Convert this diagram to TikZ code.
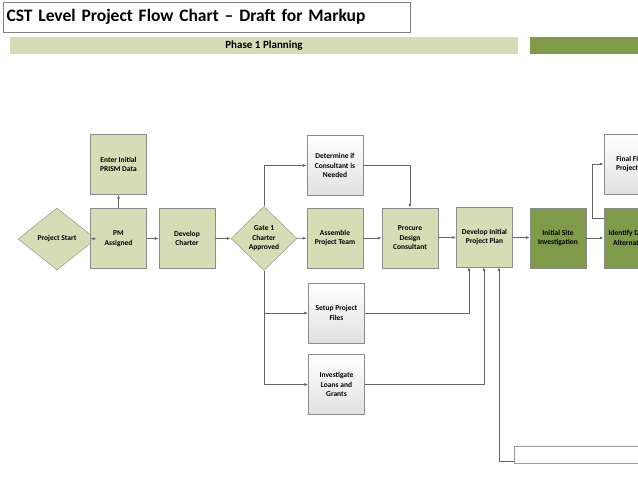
\documentclass[tikz,border=0pt]{standalone}
\usepackage{fontspec}
\setmainfont{Carlito}
\usetikzlibrary{shapes.geometric,arrows.meta}
\definecolor{lg}{HTML}{D5DCB6}
\definecolor{dg}{HTML}{7F9B4A}
\definecolor{bd}{HTML}{8C8C8C}
\begin{document}
\begin{tikzpicture}[x=1pt,y=-1pt,
 box/.style={draw=bd,fill=lg,minimum width=56pt,minimum height=60pt,align=center,font=\bfseries\fontsize{7.5}{9.5}\selectfont,inner sep=1pt},
 dbox/.style={box,fill=dg},
 gbox/.style={box,fill=none,top color=white,bottom color=black!12},
 dia/.style={diamond,draw=bd,fill=lg,aspect=1.25,minimum width=78pt,minimum height=62pt,align=center,font=\bfseries\fontsize{7.5}{9.5}\selectfont,inner sep=0pt},
 ar/.style={draw=black!60,line width=0.8pt,-{Latex[length=4pt,width=3pt]}},
 ln/.style={draw=black!60,line width=0.8pt}]
\useasboundingbox (0,0) rectangle (638,479);
\fill[white] (0,0) rectangle (638,479);
\node[draw=black!50,fill=white,minimum width=407pt,minimum height=30pt,text width=400pt,align=left,inner sep=3pt,font=\bfseries\fontsize{17.5}{19}\selectfont] (title) at (206.5,17) {CST Level Project Flow Chart – Draft for Markup};
\node[fill=lg,minimum width=508pt,minimum height=17pt,inner sep=0pt,font=\bfseries\fontsize{11}{12}\selectfont] (phase) at (264,45.5) {Phase 1 Planning};
\fill[dg] (530,37) rectangle (638,54);
\node[dia] (start) at (57,239) {Project Start};
\node[box] (pm) at (118.5,238.5) {PM\\Assigned};
\node[box] (prism) at (118.5,164.5) {Enter Initial\\PRISM Data};
\node[box] (charter) at (187,238.5) {Develop\\Charter};
\node[dia,minimum width=66pt,minimum height=64pt,aspect=1] (gate) at (264,238.5) {Gate 1\\Charter\\Approved};
\node[gbox] (det) at (335,165.5) {Determine if\\Consultant is\\Needed};
\node[box] (team) at (335,238) {Assemble\\Project Team};
\node[box] (proc) at (410,238) {Procure\\Design\\Consultant};
\node[box] (plan) at (484.5,237) {Develop Initial\\Project Plan};
\node[dbox] (site) at (558,238) {Initial Site\\Investigation};
\node[dbox] (ident) at (632,238) {Identify Design\\Alternatives};
\node[gbox] (final) at (632,164) {Final Flow\\Projection};
\node[gbox] (setup) at (336.5,313) {Setup Project\\Files};
\node[gbox] (loans) at (336.5,384.5) {Investigate\\Loans and\\Grants};
\node[draw=black!40,fill=white,minimum width=140pt,minimum height=17pt,inner sep=0pt] (bot) at (584,454.5) {};
\draw[ar] (start) -- (pm);
\draw[ar] (pm) -- (prism);
\draw[ar] (pm) -- (charter);
\draw[ar] (charter) -- (gate);
\draw[ar] (gate) -- (team);
\draw[ar] (gate.north) |- (det.west);
\draw[ar] (det.east) -| (proc.north);
\draw[ar] (team) -- (proc);
\draw[ar] (proc) -- (plan);
\draw[ar] (plan) -- (site);
\draw[ar] (site) -- (ident);
\coordinate (k) at (592,218);
\draw[ar] (604,218) -- (k) |- (final.west);
\draw[ln] (gate.south) -- (264,384.5);
\draw[ar] (264,313) -- (setup.west);
\draw[ar] (264,384.5) -- (loans.west);
\draw[ar] (setup.east) -| (469,267);
\draw[ar] (loans.east) -| (484,267);
\draw[ar] (bot.west |- 0,461) -| (499,267);
\end{tikzpicture}
\end{document}
